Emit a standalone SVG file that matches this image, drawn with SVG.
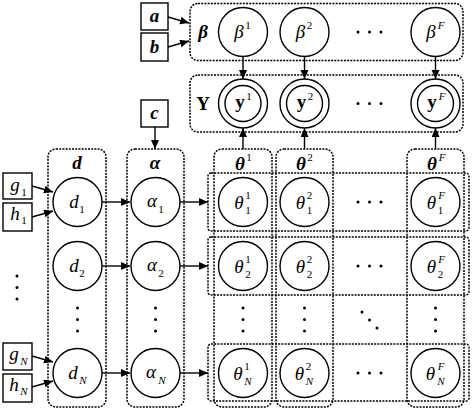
<svg xmlns="http://www.w3.org/2000/svg" width="474" height="412" viewBox="0 0 474 412">
<defs>
<marker id="ah" markerUnits="userSpaceOnUse" markerWidth="10" markerHeight="9" refX="9" refY="4" orient="auto">
<path d="M0,0 L9,4 L0,8 z" fill="#000"/>
</marker>
<style>
.plate{fill:none;stroke:#000;stroke-width:1.5;stroke-dasharray:2 1.2}
.node{fill:#fff;stroke:#000;stroke-width:1.4}
.sq{fill:#fff;stroke:#000;stroke-width:1.4}
.edge{fill:none;stroke:#000;stroke-width:1.4;marker-end:url(#ah)}
.dt{fill:#000}
text{font-family:"Liberation Serif","Times New Roman",serif;fill:#000}
.m{font-size:19px;font-style:italic;text-anchor:middle}
.bi{font-size:19px;font-style:italic;font-weight:bold;text-anchor:middle}
.b{font-size:19px;font-weight:bold;text-anchor:middle}
.s{font-size:11px;font-style:normal;font-weight:normal}
.si{font-size:11px;font-style:italic;font-weight:normal}
</style>
</defs>
<rect width="474" height="412" fill="#fff"/>

<!-- plates -->
<g id="plates">
<rect class="plate" x="190" y="3.5" width="273" height="57" rx="8"/>
<rect class="plate" x="190" y="75" width="273" height="57" rx="8"/>
<rect class="plate" x="48" y="149" width="58" height="258" rx="8"/>
<rect class="plate" x="127" y="149" width="57" height="258" rx="8"/>
<rect class="plate" x="214" y="149" width="58" height="258" rx="8"/>
<rect class="plate" x="276" y="149" width="57" height="258" rx="8"/>
<rect class="plate" x="407" y="149" width="57" height="258" rx="8"/>
<rect class="plate" x="208" y="173" width="261" height="58" rx="3"/>
<rect class="plate" x="208" y="237" width="261" height="58" rx="3"/>
<rect class="plate" x="208" y="344" width="261" height="57" rx="3"/>
</g>

<!-- plate labels -->
<g id="plate-labels">
<text class="bi" x="203" y="38">β</text>
<text class="b" x="203" y="110">Y</text>
<text class="bi" x="77" y="169">d</text>
<text class="bi" x="155" y="169">α</text>
<text class="bi"><tspan x="240" y="170">θ</tspan><tspan class="s" x="249" y="161">1</tspan></text>
<text class="bi"><tspan x="301" y="170">θ</tspan><tspan class="s" x="310" y="161">2</tspan></text>
<text class="bi"><tspan x="432" y="170">θ</tspan><tspan class="si" x="442" y="161">F</tspan></text>
</g>

<!-- connectors -->
<g id="connectors">
<line class="edge" x1="168" y1="17" x2="189" y2="23"/>
<line class="edge" x1="168" y1="47" x2="189" y2="41"/>
<line class="edge" x1="155" y1="127" x2="155" y2="149"/>
<line class="edge" x1="243" y1="56.5" x2="243" y2="79"/>
<line class="edge" x1="304.5" y1="56.5" x2="304.5" y2="79"/>
<line class="edge" x1="435.5" y1="56.5" x2="435.5" y2="79"/>
<line class="edge" x1="243" y1="149" x2="243" y2="128"/>
<line class="edge" x1="304.5" y1="149" x2="304.5" y2="128"/>
<line class="edge" x1="435.5" y1="149" x2="435.5" y2="128"/>
<line class="edge" x1="32" y1="186" x2="53" y2="192"/>
<line class="edge" x1="32" y1="217" x2="53" y2="211"/>
<line class="edge" x1="32" y1="356" x2="53" y2="362"/>
<line class="edge" x1="32" y1="387" x2="53" y2="381"/>
<line class="edge" x1="102" y1="202" x2="130" y2="202"/>
<line class="edge" x1="102" y1="266" x2="130" y2="266"/>
<line class="edge" x1="102" y1="373" x2="130" y2="373"/>
<line class="edge" x1="180" y1="202" x2="208" y2="202"/>
<line class="edge" x1="180" y1="266" x2="208" y2="266"/>
<line class="edge" x1="180" y1="373" x2="208" y2="373"/>
</g>

<!-- hyperparameter boxes -->
<g id="a"><rect class="sq" x="141" y="3" width="27" height="27"/><text class="bi" x="154.5" y="22">a</text></g>
<g id="b"><rect class="sq" x="141" y="33" width="27" height="28"/><text class="bi" x="154.5" y="53">b</text></g>
<g id="c"><rect class="sq" x="141" y="100" width="27" height="27"/><text class="bi" x="154.5" y="119">c</text></g>
<g id="g1"><rect class="sq" x="3" y="173" width="29" height="26"/><text class="m"><tspan x="15" y="191">g</tspan><tspan class="s" x="24" y="196">1</tspan></text></g>
<g id="h1"><rect class="sq" x="3" y="203" width="29" height="28"/><text class="m"><tspan x="15" y="220">h</tspan><tspan class="s" x="24" y="224">1</tspan></text></g>
<g id="gN"><rect class="sq" x="3" y="343" width="29" height="27"/><text class="m"><tspan x="14" y="360">g</tspan><tspan class="si" x="24" y="365">N</tspan></text></g>
<g id="hN"><rect class="sq" x="3" y="374" width="29" height="28"/><text class="m"><tspan x="14" y="391">h</tspan><tspan class="si" x="24" y="395">N</tspan></text></g>

<!-- beta nodes -->
<g id="beta1"><circle class="node" cx="243" cy="32" r="24.5"/><text class="m"><tspan x="239" y="38">β</tspan><tspan class="s" x="248" y="29">1</tspan></text></g>
<g id="beta2"><circle class="node" cx="304.5" cy="32" r="24.5"/><text class="m"><tspan x="300.5" y="38">β</tspan><tspan class="s" x="309.5" y="29">2</tspan></text></g>
<g id="betaF"><circle class="node" cx="435.5" cy="32" r="24.5"/><text class="m"><tspan x="431" y="38">β</tspan><tspan class="si" x="441" y="29">F</tspan></text></g>

<!-- observed y nodes -->
<g id="y1"><circle class="node" cx="243" cy="103.5" r="24.5"/><circle class="node" cx="243" cy="103.5" r="18"/><text class="b"><tspan x="240" y="108">y</tspan><tspan class="s" x="249" y="100">1</tspan></text></g>
<g id="y2"><circle class="node" cx="304.5" cy="103.5" r="24.5"/><circle class="node" cx="304.5" cy="103.5" r="18"/><text class="b"><tspan x="301.5" y="108">y</tspan><tspan class="s" x="310.5" y="100">2</tspan></text></g>
<g id="yF"><circle class="node" cx="435.5" cy="103.5" r="24.5"/><circle class="node" cx="435.5" cy="103.5" r="18"/><text class="b"><tspan x="432" y="108">y</tspan><tspan class="si" x="442" y="100">F</tspan></text></g>

<!-- d nodes -->
<g id="d1"><circle class="node" cx="77.5" cy="202" r="24.5"/><text class="m"><tspan x="74" y="208">d</tspan><tspan class="s" x="82" y="213">1</tspan></text></g>
<g id="d2"><circle class="node" cx="77.5" cy="266" r="24.5"/><text class="m"><tspan x="74" y="272">d</tspan><tspan class="s" x="82" y="277">2</tspan></text></g>
<g id="dN"><circle class="node" cx="77.5" cy="373" r="24.5"/><text class="m"><tspan x="73" y="379">d</tspan><tspan class="si" x="83" y="384">N</tspan></text></g>

<!-- alpha nodes -->
<g id="alpha1"><circle class="node" cx="155.5" cy="202" r="24.5"/><text class="m"><tspan x="152" y="207">α</tspan><tspan class="s" x="161" y="213">1</tspan></text></g>
<g id="alpha2"><circle class="node" cx="155.5" cy="266" r="24.5"/><text class="m"><tspan x="152" y="271">α</tspan><tspan class="s" x="161" y="277">2</tspan></text></g>
<g id="alphaN"><circle class="node" cx="155.5" cy="373" r="24.5"/><text class="m"><tspan x="151" y="378">α</tspan><tspan class="si" x="162" y="384">N</tspan></text></g>

<!-- theta nodes -->
<g id="theta11"><circle class="node" cx="243" cy="202" r="24.5"/><text class="m"><tspan x="239" y="209">θ</tspan><tspan class="s" x="248" y="199">1</tspan><tspan class="s" x="248" y="214">1</tspan></text></g>
<g id="theta21"><circle class="node" cx="304.5" cy="202" r="24.5"/><text class="m"><tspan x="300.5" y="209">θ</tspan><tspan class="s" x="309.5" y="199">2</tspan><tspan class="s" x="309.5" y="214">1</tspan></text></g>
<g id="thetaF1"><circle class="node" cx="435.5" cy="202" r="24.5"/><text class="m"><tspan x="431.5" y="209">θ</tspan><tspan class="si" x="441.5" y="199">F</tspan><tspan class="s" x="440.5" y="214">1</tspan></text></g>
<g id="theta12"><circle class="node" cx="243" cy="266" r="24.5"/><text class="m"><tspan x="239" y="273">θ</tspan><tspan class="s" x="248" y="263">1</tspan><tspan class="s" x="248" y="278">2</tspan></text></g>
<g id="theta22"><circle class="node" cx="304.5" cy="266" r="24.5"/><text class="m"><tspan x="300.5" y="273">θ</tspan><tspan class="s" x="309.5" y="263">2</tspan><tspan class="s" x="309.5" y="278">2</tspan></text></g>
<g id="thetaF2"><circle class="node" cx="435.5" cy="266" r="24.5"/><text class="m"><tspan x="431.5" y="273">θ</tspan><tspan class="si" x="441.5" y="263">F</tspan><tspan class="s" x="440.5" y="278">2</tspan></text></g>
<g id="theta1N"><circle class="node" cx="243" cy="373" r="24.5"/><text class="m"><tspan x="238" y="380">θ</tspan><tspan class="s" x="247" y="370">1</tspan><tspan class="si" x="248" y="385">N</tspan></text></g>
<g id="theta2N"><circle class="node" cx="304.5" cy="373" r="24.5"/><text class="m"><tspan x="299.5" y="380">θ</tspan><tspan class="s" x="308.5" y="370">2</tspan><tspan class="si" x="309.5" y="385">N</tspan></text></g>
<g id="thetaFN"><circle class="node" cx="435.5" cy="373" r="24.5"/><text class="m"><tspan x="430.5" y="380">θ</tspan><tspan class="si" x="441" y="370">F</tspan><tspan class="si" x="441" y="385">N</tspan></text></g>

<!-- ellipsis dots -->
<g id="ellipses" class="dt">
<circle cx="358" cy="32" r="1.5"/><circle cx="369.5" cy="32" r="1.5"/><circle cx="381" cy="32" r="1.5"/>
<circle cx="358" cy="103.5" r="1.5"/><circle cx="369.5" cy="103.5" r="1.5"/><circle cx="381" cy="103.5" r="1.5"/>
<circle cx="358" cy="202" r="1.5"/><circle cx="369.5" cy="202" r="1.5"/><circle cx="381" cy="202" r="1.5"/>
<circle cx="358" cy="266" r="1.5"/><circle cx="369.5" cy="266" r="1.5"/><circle cx="381" cy="266" r="1.5"/>
<circle cx="358" cy="373" r="1.5"/><circle cx="369.5" cy="373" r="1.5"/><circle cx="381" cy="373" r="1.5"/>
<circle cx="17" cy="276" r="1.5"/><circle cx="17" cy="287.5" r="1.5"/><circle cx="17" cy="299" r="1.5"/>
<circle cx="77.5" cy="308" r="1.5"/><circle cx="77.5" cy="319.5" r="1.5"/><circle cx="77.5" cy="331" r="1.5"/>
<circle cx="155.5" cy="308" r="1.5"/><circle cx="155.5" cy="319.5" r="1.5"/><circle cx="155.5" cy="331" r="1.5"/>
<circle cx="243" cy="308" r="1.5"/><circle cx="243" cy="319.5" r="1.5"/><circle cx="243" cy="331" r="1.5"/>
<circle cx="304.5" cy="308" r="1.5"/><circle cx="304.5" cy="319.5" r="1.5"/><circle cx="304.5" cy="331" r="1.5"/>
<circle cx="435.5" cy="308" r="1.5"/><circle cx="435.5" cy="319.5" r="1.5"/><circle cx="435.5" cy="331" r="1.5"/>
<circle cx="362" cy="312" r="1.5"/><circle cx="369.5" cy="320" r="1.5"/><circle cx="377" cy="328" r="1.5"/>
</g>
</svg>
